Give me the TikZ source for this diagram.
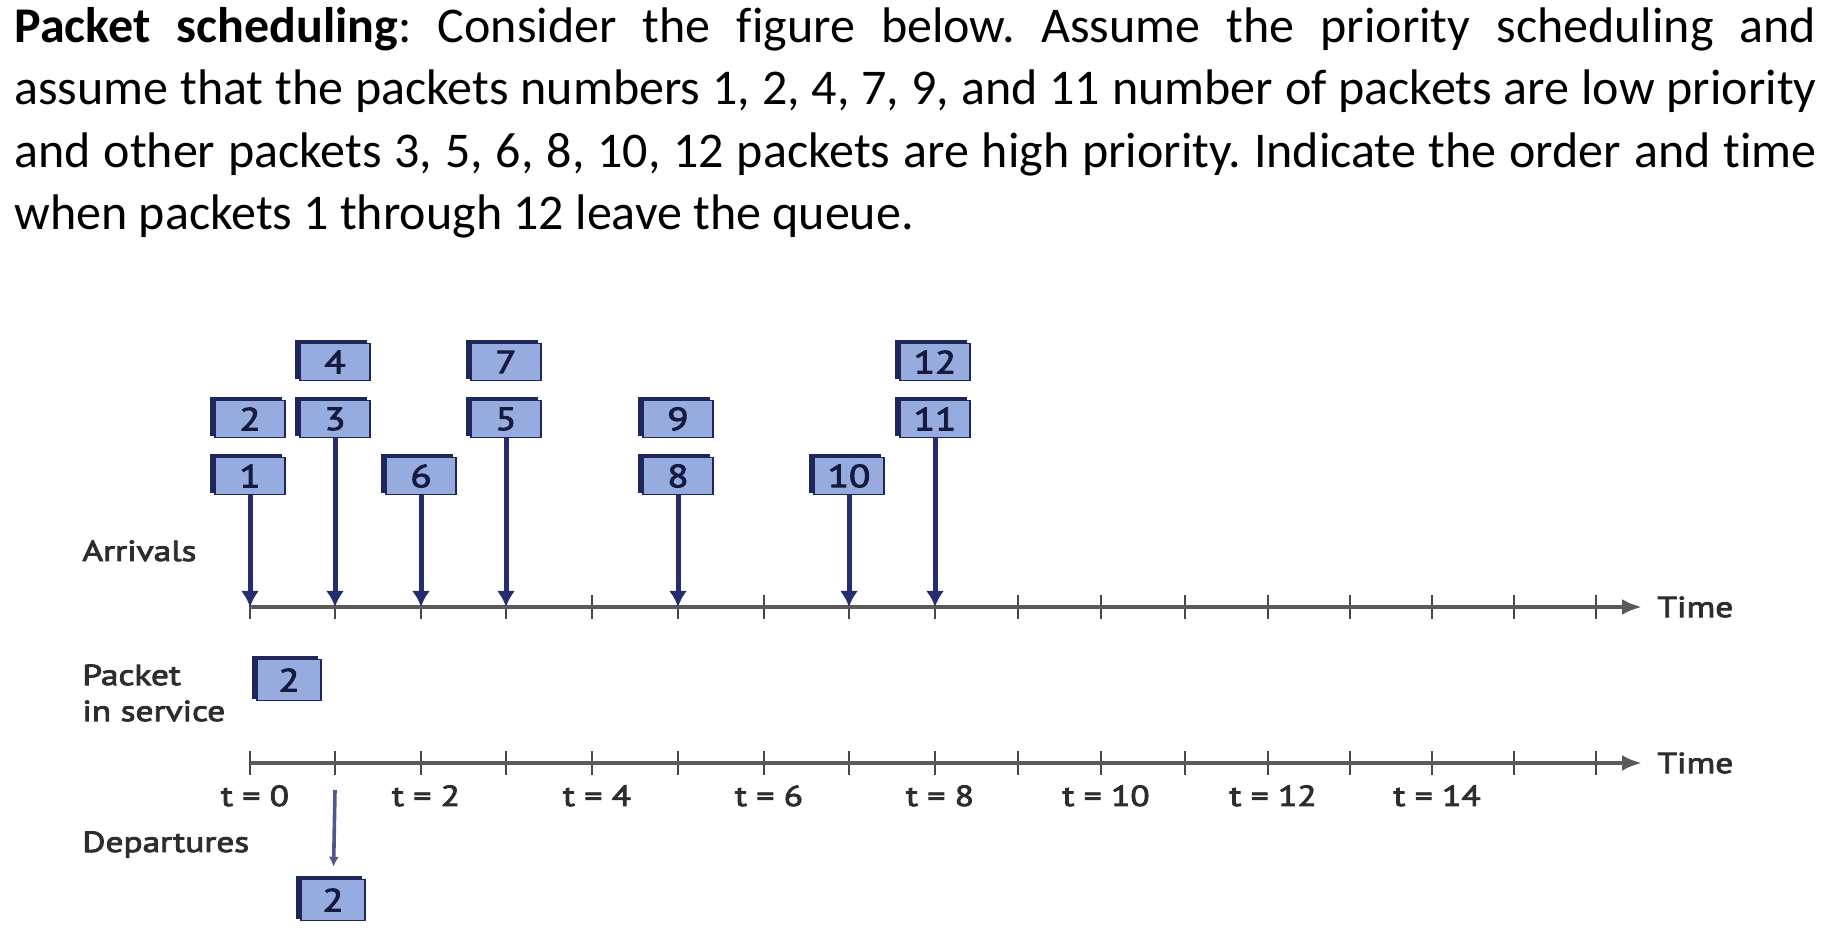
\documentclass[tikz,border=0pt]{standalone}
\usepackage{fontspec}
\setmainfont[Ligatures=NoCommon]{Carlito}
\newfontfamily\figfont[FakeStretch=1.22, FakeBold=3]{PT Sans}
\usetikzlibrary{shapes,arrows.meta,shadows}
\definecolor{pktblue}{RGB}{150,172,222}
\definecolor{pktedge}{RGB}{30,38,90}
\definecolor{arrowblue}{RGB}{38,45,110}
\definecolor{axisgray}{RGB}{90,90,90}
\definecolor{labelgray}{RGB}{45,45,45}
\tikzstyle{pkt} = [draw=pktedge, fill=pktblue, rectangle, line width=0.7pt, minimum width=35pt, minimum height=18.5pt, inner sep=0pt, text=pktedge!70!black, font=\figfont\fontsize{16}{16}\selectfont, copy shadow={shadow xshift=-2pt, shadow yshift=1.2pt, fill=pktedge, draw=pktedge}]
\tikzstyle{svc} = [pkt, minimum width=32pt, minimum height=20.5pt]
\tikzstyle{lbl} = [inner sep=0pt, text=labelgray, font=\figfont\fontsize{14.5}{18}\selectfont]
\tikzstyle{axis} = [draw=axisgray, line width=2pt, -{Latex[length=10pt,width=8pt]}]
\tikzstyle{tick} = [draw=axisgray!80!black, line width=1.2pt]
\tikzstyle{arrival} = [->, draw=arrowblue, line width=2.5pt]
\tikzstyle{departure} = [-{Latex[length=5pt,width=5pt]}, draw=arrowblue!80, line width=1.8pt]
\tikzstyle{title} = [inner sep=0pt, anchor=base west, font=\fontsize{25}{30}\selectfont]

\begin{document}
\frenchspacing
\begin{tikzpicture}[x=0.5pt, y=0.5pt, node distance=28.5pt, >={Latex[length=8pt,width=9pt]}]
    \useasboundingbox (0,0) rectangle (1841,941);
 % question text
    \node [title, name=line1] at (14,898) {\makebox[901pt][s]{\textbf{Packet scheduling}: Consider the figure below. Assume the priority scheduling and}};
    \node [title, name=line2] at (14,836) {\makebox[901pt][s]{assume that the packets numbers 1, 2, 4, 7, 9, and 11 number of packets are low priority}};
    \node [title, name=line3] at (14,773) {\makebox[901pt][s]{and other packets 3, 5, 6, 8, 10, 12 packets are high priority. Indicate the order and time}};
    \node [title, name=line4] at (14,711) {when packets 1 through 12 leave the queue.};
 % time axes
    \foreach \x [count=\i from 0] in {250,335,421,506,592,678,764,849,935,1018,1101,1185,1268,1350,1432,1514,1596} {
        \coordinate (a\i) at (\x,334);
        \coordinate (s\i) at (\x,178);
        \draw [tick] (\x,322) -- (\x,346);
        \draw [tick] (\x,166) -- (\x,190);
        \ifnum\i<15 \ifodd\i\else
            \node [lbl, anchor=base] at (\x+5,135) {t = \i};
        \fi\fi
    }
    \coordinate (atip) at (1642,334);
    \coordinate (stip) at (1642,178);
    \draw [axis] (a0) -- (atip);
    \draw [axis] (s0) -- (stip);
    \node [lbl, anchor=west] at (1657,334) {Time};
    \node [lbl, anchor=west] at (1657,178) {Time};
 % labels
    \node [lbl, anchor=base west, name=arrivals] at (82,380) {Arrivals};
    \node [lbl, anchor=west, align=left, name=service] at (82,248) {Packet\\in service};
    \node [lbl, anchor=base west, name=departures] at (82,89) {Departures};
 % packets
    \node [pkt, name=p1] at (250,465) {1};
    \node [pkt, above of=p1, name=p2] {2};
    \node [pkt, name=p3] at (335,522) {3};
    \node [pkt, above of=p3, name=p4] {4};
    \node [pkt, name=p6] at (421,465) {6};
    \node [pkt, name=p5] at (506,522) {5};
    \node [pkt, above of=p5, name=p7] {7};
    \node [pkt, name=p8] at (678,465) {8};
    \node [pkt, above of=p8, name=p9] {9};
    \node [pkt, name=p10] at (849,465) {10};
    \node [pkt, name=p11] at (935,522) {11};
    \node [pkt, above of=p11, name=p12] {12};
    \node [svc, name=inservice] at (289,261) {2};
    \coordinate (d1) at (335,151);
    \node [svc, name=out2] at (333,41) {2};
 % arrows
    \draw [arrival] (p1) -- (a0);
    \draw [arrival] (p3) -- (a1);
    \draw [arrival] (p6) -- (a2);
    \draw [arrival] (p5) -- (a3);
    \draw [arrival] (p8) -- (a5);
    \draw [arrival] (p10) -- (a7);
    \draw [arrival] (p11) -- (a8);
    \draw [departure, shorten >=6pt] (d1) -- (out2);

\end{tikzpicture}
\end{document}
